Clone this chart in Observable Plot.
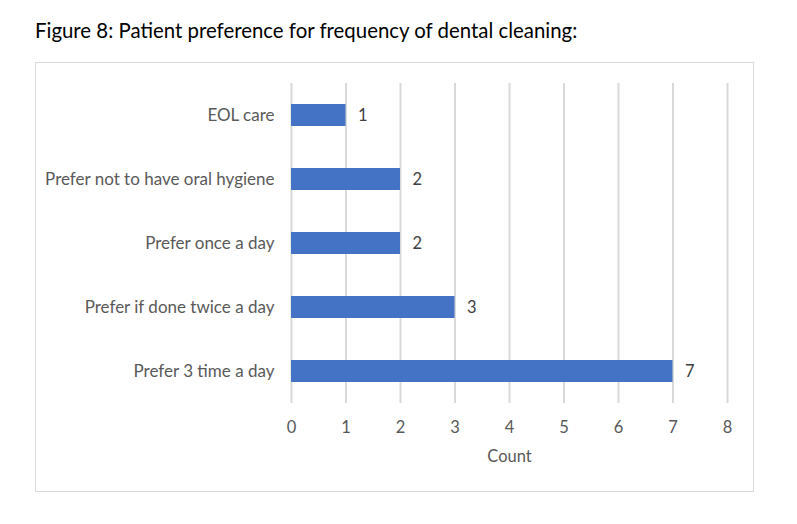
<!DOCTYPE html>
<html>
<head>
<meta charset="utf-8">
<script src="https://cdn.jsdelivr.net/npm/d3@7"></script>
<script src="https://cdn.jsdelivr.net/npm/@observablehq/plot@0.6"></script>
<style>
  html, body { margin: 0; padding: 0; background: #fff; }
  body { width: 797px; height: 524px; position: relative; font-family: Lato, sans-serif; }
  #title { position: absolute; left: 35px; top: 18px; font-size: 20.4px; color: #000; white-space: nowrap; line-height: 24px; }
  #frame { position: absolute; left: 35px; top: 62px; width: 717px; height: 428px; border: 1px solid #d9d9d9; }
  #frame svg { display: block; }
</style>
</head>
<body>
<div id="title">Figure 8: Patient preference for frequency of dental cleaning:</div>
<div id="frame"></div>
<script>
// Survey responses, top to bottom as listed on the chart
const categories = [
  "EOL care",
  "Prefer not to have oral hygiene",
  "Prefer once a day",
  "Prefer if done twice a day",
  "Prefer 3 time a day"
];
const counts = [1, 2, 2, 3, 7];
const xTicks = [0, 1, 2, 3, 4, 5, 6, 7, 8];

const data = categories.map((c, i) => ({category: c, count: counts[i]}));

const chart = Plot.plot({
  width: 717,
  height: 428,
  marginLeft: 255,
  marginRight: 26,
  marginTop: 20,
  marginBottom: 88,
  style: {fontFamily: "Lato, sans-serif", fontSize: "17px", color: "#595959", background: "#fff"},
  x: {domain: [0, 8], ticks: xTicks},
  y: {domain: categories, paddingInner: 0.66, paddingOuter: 0.33},
  marks: [
    Plot.gridX(xTicks, {stroke: "#d9d9d9", strokeOpacity: 1, strokeWidth: 2}),
    Plot.barX(data, {x: "count", y: "category", fill: "#4472c4"}),
    Plot.text(data, {x: "count", y: "category", text: d => String(d.count), textAnchor: "start", dx: 12, fill: "#404040", fontSize: 16.5}),
    Plot.axisY({tickSize: 0, tickPadding: 17, label: null, fill: "#595959", fontSize: 17}),
    Plot.axisX({tickSize: 0, tickPadding: 18, ticks: xTicks, tickFormat: d3.format("d"), label: "Count", labelAnchor: "center", labelArrow: "none", labelOffset: 58, fill: "#595959", fontSize: 16.5})
  ]
});
document.getElementById("frame").appendChild(chart);
</script>
</body>
</html>
